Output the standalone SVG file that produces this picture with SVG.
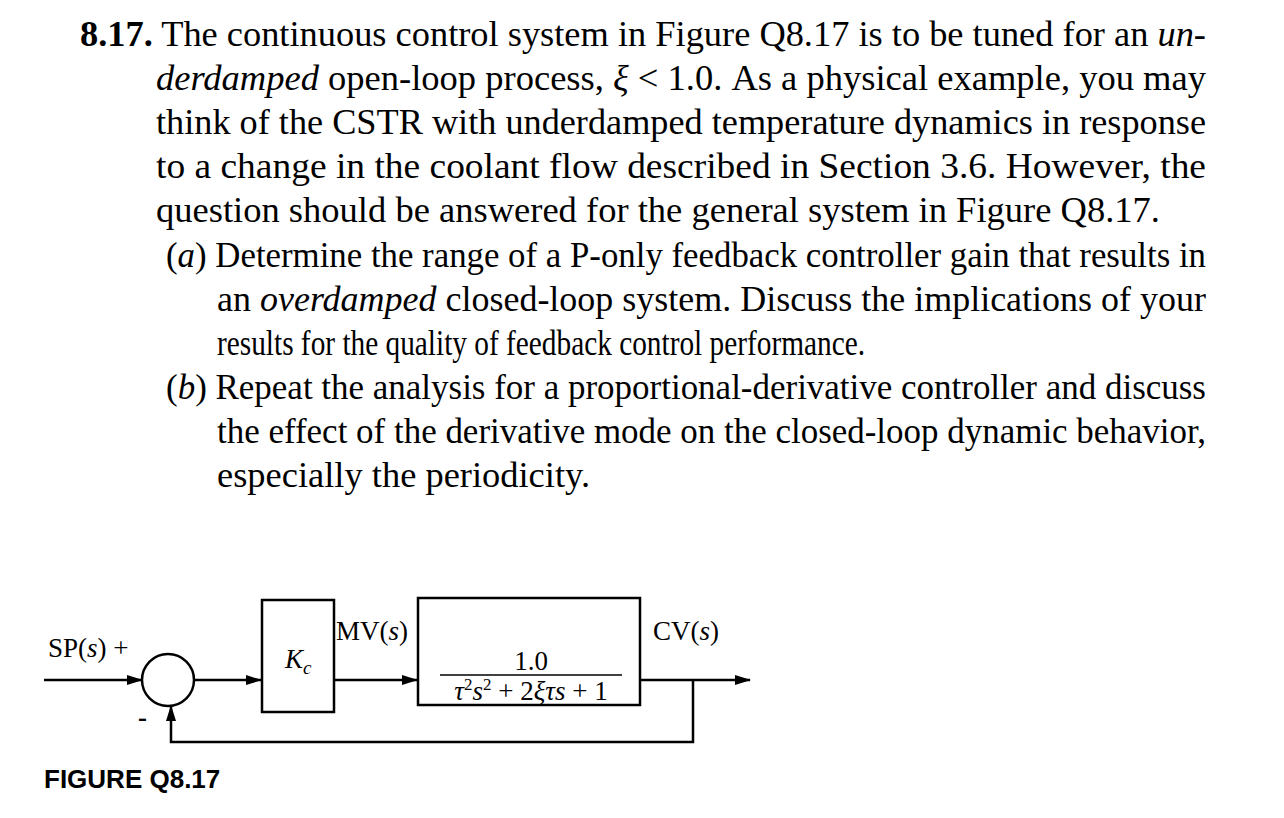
<svg xmlns="http://www.w3.org/2000/svg" width="1284" height="818" viewBox="0 0 1284 818">
<defs><marker id="ar" markerWidth="16" markerHeight="10" refX="15" refY="5" orient="auto" markerUnits="userSpaceOnUse"><path d="M0,0 L16,5 L0,10 z" fill="#000"/></marker></defs>
<style>
.t{font-family:"Liberation Serif",serif;font-size:36px;fill:#000}
.d{font-family:"Liberation Serif",serif;font-size:27px;fill:#000}
.l{stroke:#000;stroke-width:2.5;fill:none}
</style>
<rect width="1284" height="818" fill="#fff"/>
<g id="text">
<text class="t" x="80" y="46" textLength="1126" lengthAdjust="spacingAndGlyphs"><tspan font-weight="bold">8.17.</tspan> The continuous control system in Figure Q8.17 is to be tuned for an <tspan font-style="italic">un-</tspan></text>
<text class="t" x="156" y="90" textLength="1050" lengthAdjust="spacingAndGlyphs"><tspan font-style="italic">derdamped</tspan> open-loop process, <tspan font-style="italic">ξ</tspan> &lt; 1.0. As a physical example, you may</text>
<text class="t" x="156" y="134" textLength="1050" lengthAdjust="spacingAndGlyphs">think of the CSTR with underdamped temperature dynamics in response</text>
<text class="t" x="156" y="178" textLength="1050" lengthAdjust="spacingAndGlyphs">to a change in the coolant flow described in Section 3.6. However, the</text>
<text class="t" x="156" y="222" textLength="1004" lengthAdjust="spacingAndGlyphs">question should be answered for the general system in Figure Q8.17.</text>
<text class="t" x="166" y="267" textLength="1040" lengthAdjust="spacingAndGlyphs">(<tspan font-style="italic">a</tspan>) Determine the range of a P-only feedback controller gain that results in</text>
<text class="t" x="217" y="311" textLength="989" lengthAdjust="spacingAndGlyphs">an <tspan font-style="italic">overdamped</tspan> closed-loop system. Discuss the implications of your</text>
<text class="t" x="217" y="355" textLength="648" lengthAdjust="spacingAndGlyphs">results for the quality of feedback control performance.</text>
<text class="t" x="166" y="399" textLength="1040" lengthAdjust="spacingAndGlyphs">(<tspan font-style="italic">b</tspan>) Repeat the analysis for a proportional-derivative controller and discuss</text>
<text class="t" x="217" y="443" textLength="989" lengthAdjust="spacingAndGlyphs">the effect of the derivative mode on the closed-loop dynamic behavior,</text>
<text class="t" x="217" y="487" textLength="373" lengthAdjust="spacingAndGlyphs">especially the periodicity.</text>
<text x="44" y="788" font-family="'Liberation Sans',sans-serif" font-weight="bold" font-size="26" fill="#000">FIGURE Q8.17</text>
</g>
<g id="sum"><circle class="l" cx="168" cy="680" r="26"/></g>
<g id="kc"><rect class="l" x="262" y="600" width="72" height="112"/><text class="d" x="285" y="668" font-style="italic">K<tspan font-size="19" dy="6">c</tspan></text></g>
<g id="plant"><rect class="l" x="418" y="598" width="222" height="107"/>
<text class="d" x="531" y="670" text-anchor="middle">1.0</text>
<line x1="440" y1="675" x2="622" y2="675" stroke="#000" stroke-width="1.5"/>
<text class="d" x="531" y="700" text-anchor="middle"><tspan font-style="italic">τ</tspan><tspan font-size="17" dy="-10">2</tspan><tspan font-style="italic" dy="10">s</tspan><tspan font-size="17" dy="-10">2</tspan><tspan dy="10"> + 2</tspan><tspan font-style="italic">ξτs</tspan> + 1</text></g>
<g id="labels">
<text class="d" x="48" y="657">SP(<tspan font-style="italic">s</tspan>) +</text>
<text class="d" x="336" y="640">MV(<tspan font-style="italic">s</tspan>)</text>
<text class="d" x="653" y="640">CV(<tspan font-style="italic">s</tspan>)</text>
<text class="d" x="138" y="726" font-weight="bold">-</text>
</g>
<g id="connectors">
<line class="l" x1="44" y1="680" x2="142" y2="680" marker-end="url(#ar)"/>
<line class="l" x1="194" y1="680" x2="261" y2="680" marker-end="url(#ar)"/>
<line class="l" x1="334" y1="680" x2="417" y2="680" marker-end="url(#ar)"/>
<line class="l" x1="640" y1="680" x2="750" y2="680" marker-end="url(#ar)"/>
<polyline class="l" points="693,680 693,742 171,742 171,706" marker-end="url(#ar)"/>
</g>
</svg>
